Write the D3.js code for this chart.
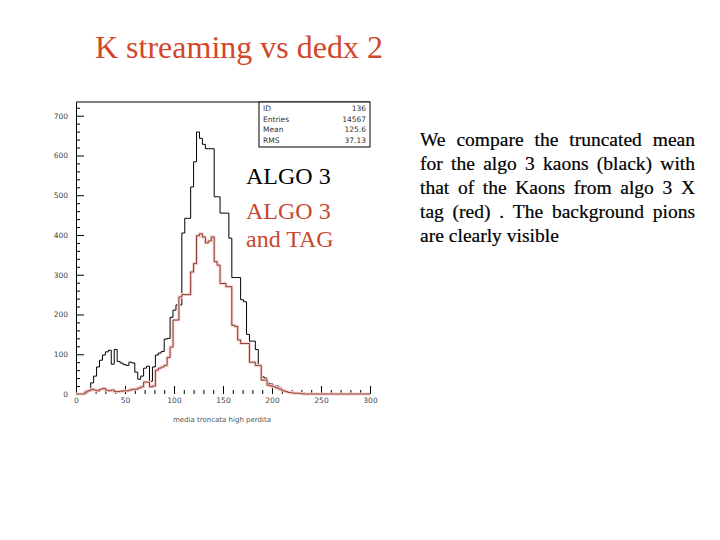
<!DOCTYPE html>
<html>
<head>
<meta charset="utf-8">
<script src="https://cdn.jsdelivr.net/npm/d3@7"></script>
<style>
  body { margin: 0; background: #fff; }
  svg { display: block; }
</style>
</head>
<body>
<svg id="chart" width="720" height="540"></svg>
<script>
// histogram bins, 3 units wide, 0..300
const binWidth = 3;
const algo3 = [
    0, 0, 0, 3, 10, 28, 45, 68, 85, 98,
    106, 110, 75, 112, 82, 78, 74, 72, 80, 78,
    55, 37, 45, 65, 70, 32, 68, 98, 103, 107,
    138, 140, 193, 211, 224, 224, 405, 442, 442, 521,
    584, 659, 643, 628, 617, 617, 617, 496, 496, 455,
    455, 455, 392, 293, 293, 293, 237, 232, 150, 133,
    133, 112, 72, 43, 40, 27, 25, 20, 20, 15,
    10, 8, 5, 4, 3, 3, 2, 2, 1, 1,
    0, 0, 0, 0, 0, 0, 0, 0, 0, 0,
    0, 0, 0, 0, 0, 0, 0, 0, 0, 0
]
const algo3Tag = [
    0, 0, 0, 5, 8, 12, 10, 8, 12, 14,
    10, 8, 10, 6, 6, 7, 8, 8, 10, 12,
    12, 15, 18, 30, 30, 18, 20, 60, 65, 68,
    72, 92, 118, 186, 186, 244, 250, 250, 250, 307,
    328, 398, 403, 395, 380, 385, 395, 333, 324, 278,
    278, 270, 270, 173, 170, 136, 127, 127, 127, 80,
    80, 72, 72, 35, 35, 22, 20, 18, 15, 12,
    8, 6, 4, 3, 2, 2, 1, 0, 0, 0,
    0, 0, 0, 0, 0, 0, 0, 0, 0, 0,
    0, 0, 0, 0, 0, 0, 0, 0, 0, 0
]

const yTicks = [0, 100, 200, 300, 400, 500, 600, 700]
const xTicks = [0, 50, 100, 150, 200, 250, 300]
const statLabels = ["ID", "Entries", "Mean", "RMS"]
const statValues = ["136", "14567", "125.6", "37.13"]
const notes = [
    "We compare the truncated mean",
    "for the algo 3 kaons (black) with",
    "that of the Kaons from algo 3 X",
    "tag (red) . The background pions",
    "are clearly visible"
]

var svg = d3.select("#chart")
var serif = "Liberation Serif"
var sans = "DejaVu Sans"

svg.append("text")
    .attr("x", 95)
    .attr("y", 58)
    .style("font-family", serif)
    .attr("font-size", 32)
    .attr("fill", "#d2472b")
    .text("K streaming vs dedx 2")

var xScale = d3.scaleLinear().domain([0, 300]).range([76, 370])
var yScale = d3.scaleLinear().domain([0, 734.5]).range([394, 102])

// frame top line
svg.append("line")
    .attr("x1", xScale(0)).attr("x2", xScale(300))
    .attr("y1", yScale(734.5)).attr("y2", yScale(734.5))
    .attr("stroke", "#000")

// y axis with inward ticks
var leftAxis = d3.axisLeft(yScale)
    .tickValues(yTicks)
    .tickSizeInner(-8)
    .tickSizeOuter(0)
    .tickPadding(8)
var yAxis = svg.append("g")
    .attr("transform", `translate(${xScale(0)},0)`)
    .call(leftAxis)
yAxis.select(".domain").attr("stroke", "#000")
yAxis.selectAll("text").style("font-family", sans).attr("font-size", 7.5).attr("fill", "#444")

var yMinor = d3.range(0, 735, 20).filter(v => v % 100 != 0)
svg.append("g")
    .attr("transform", `translate(${xScale(0)},0)`)
    .call(d3.axisLeft(yScale).tickValues(yMinor).tickSizeInner(-4).tickSizeOuter(0).tickFormat(""))
    .select(".domain").remove()

// x axis, ticks only
var botAxis = d3.axisBottom(xScale)
    .tickValues(xTicks)
    .tickSizeInner(-8)
    .tickSizeOuter(0)
    .tickPadding(4)
var xAxis = svg.append("g")
    .attr("transform", `translate(0,${yScale(0)})`)
    .call(botAxis)
xAxis.select(".domain").remove()
xAxis.selectAll("text").style("font-family", sans).attr("font-size", 7.5).attr("fill", "#444")

var xMinor = d3.range(0, 301, 10).filter(v => v % 50 != 0)
svg.append("g")
    .attr("transform", `translate(0,${yScale(0)})`)
    .call(d3.axisBottom(xScale).tickValues(xMinor).tickSizeInner(-4).tickSizeOuter(0).tickFormat(""))
    .select(".domain").remove()

svg.append("text")
    .attr("x", 222)
    .attr("y", 422)
    .attr("text-anchor", "middle")
    .style("font-family", sans)
    .attr("font-size", 7)
    .attr("fill", "#555")
    .text("media troncata high perdita")

// step outlines
function stepPoints(counts) {
    var pts = counts.map((c, i) => [i * binWidth, c])
    pts.push([counts.length * binWidth, counts[counts.length - 1]])
    return pts
}
var stepLine = d3.line()
    .x(d => xScale(d[0]))
    .y(d => yScale(d[1]))
    .curve(d3.curveStepAfter)

svg.append("path")
    .attr("d", stepLine(stepPoints(algo3)))
    .attr("fill", "none")
    .attr("stroke", "#000")
    .attr("stroke-width", 1)

svg.append("path")
    .attr("d", stepLine(stepPoints(algo3Tag)))
    .attr("fill", "none")
    .attr("stroke", "#f5d3cf")
    .attr("stroke-width", 3)
svg.append("path")
    .attr("d", stepLine(stepPoints(algo3Tag)))
    .attr("fill", "none")
    .attr("stroke", "#8e3a30")
    .attr("stroke-width", 1)

// stats box
var box = svg.append("g").attr("transform", "translate(259,102)")
box.append("rect")
    .attr("width", 111).attr("height", 45)
    .attr("fill", "#fff").attr("stroke", "#000")
statLabels.forEach((lab, i) => {
    box.append("text")
        .attr("x", 4).attr("y", 9 + i * 10.5)
        .style("font-family", sans).attr("font-size", 7.5).attr("fill", "#333")
        .text(lab)
    box.append("text")
        .attr("x", 107).attr("y", 9 + i * 10.5)
        .attr("text-anchor", "end")
        .style("font-family", sans).attr("font-size", 7.5).attr("fill", "#333")
        .text(statValues[i])
})

// labels in the plot
var labels = [
    {text: "ALGO 3", y: 184, color: "#000"},
    {text: "ALGO 3", y: 219, color: "#c8482e"},
    {text: "and TAG", y: 247, color: "#c8482e"}
]
labels.forEach(l => {
    svg.append("text")
        .attr("x", 246).attr("y", l.y)
        .style("font-family", serif).attr("font-size", 24).attr("fill", l.color)
        .text(l.text)
})

// justified paragraph
var paraLeft = 420, paraRight = 695
notes.forEach((line, i) => {
    var words = line.split(" ")
    var yy = 146 + i * 24
    var nodes = words.map(w => svg.append("text")
        .attr("y", yy)
        .style("font-family", serif)
        .style("font-size", "19.5px")
        .attr("fill", "#000")
        .attr("stroke", "#000")
        .attr("stroke-width", 0.2)
        .text(w))
    var widths = nodes.map(n => n.node().getComputedTextLength())
    var last = i == notes.length - 1
    var gap = last ? 5 : (paraRight - paraLeft - d3.sum(widths)) / (words.length - 1)
    var xx = paraLeft
    nodes.forEach((n, j) => {
        n.attr("x", xx)
        xx += widths[j] + gap
    })
})
</script>
</body>
</html>
